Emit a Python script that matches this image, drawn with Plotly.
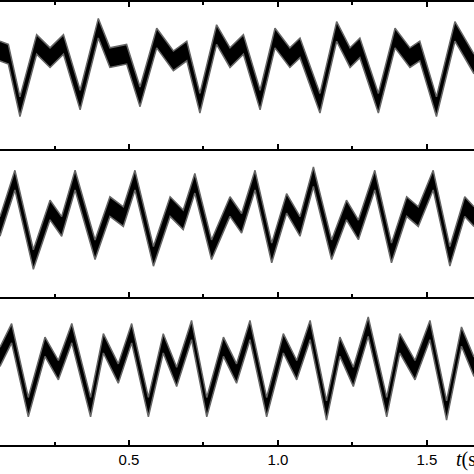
import plotly.graph_objects as go
from plotly.subplots import make_subplots

# time (s) and centre level of the noisy trace
t1 = [0.067, 0.095, 0.134, 0.190, 0.235, 0.280, 0.336, 0.397, 0.436, 0.492, 0.537, 0.593, 0.649,
      0.694, 0.738, 0.794, 0.839, 0.884, 0.940, 0.990, 1.040, 1.074, 1.141, 1.197, 1.242, 1.275,
      1.337, 1.393, 1.443, 1.476, 1.532, 1.594, 1.658]
v1 = [1.0, 0.87, -1.27, 1.27, 0.73, 1.27, -1.0, 1.93, 0.73, 0.87, -0.87, 1.53, 0.6,
      1.0, -1.13, 1.67, 0.73, 1.27, -1.0, 1.53, 0.73, 1.13, -1.13, 1.8, 0.73, 1.13,
      -1.13, 1.53, 0.73, 1.0, -1.27, 1.8, 0.47]

t2 = [0.067, 0.117, 0.179, 0.235, 0.274, 0.319, 0.386, 0.436, 0.481, 0.520, 0.582, 0.638, 0.682,
      0.721, 0.777, 0.839, 0.878, 0.923, 0.979, 1.029, 1.074, 1.119, 1.180, 1.230, 1.270, 1.325,
      1.381, 1.432, 1.471, 1.521, 1.577, 1.627, 1.658]
v2 = [-0.12, 1.77, -1.47, 0.55, -0.12, 1.77, -1.07, 0.69, 0.28, 1.77, -1.34, 0.69, 0.15,
      1.64, -1.07, 0.69, 0.01, 1.77, -1.20, 0.82, -0.12, 1.91, -1.07, 0.55, -0.26, 1.77,
      -1.20, 0.69, 0.28, 1.77, -1.34, 0.69, 0.28]

t3 = [0.067, 0.106, 0.162, 0.218, 0.263, 0.308, 0.371, 0.414, 0.464, 0.509, 0.565, 0.615, 0.660,
      0.710, 0.761, 0.817, 0.861, 0.906, 0.962, 1.018, 1.063, 1.108, 1.163, 1.208, 1.253, 1.303,
      1.365, 1.409, 1.460, 1.510, 1.566, 1.616, 1.658]
v3 = [0.65, 1.63, -1.43, 1.07, 0.10, 1.63, -1.43, 1.21, -0.04, 1.63, -1.43, 1.21, -0.18,
      1.76, -1.43, 1.07, -0.04, 1.76, -1.43, 1.21, 0.10, 1.76, -1.57, 1.07, -0.18, 1.90,
      -1.43, 1.21, 0.10, 1.76, -1.57, 1.49, 0.24]

half_width = 0.4  # spread of the noise around the centre

fig = make_subplots(rows=3, cols=1, shared_xaxes=True)

for i, (t, v) in enumerate([(t1, v1), (t2, v2), (t3, v3)], start=1):
    upper = [y + half_width for y in v]
    lower = [y - half_width for y in v]
    fig.add_trace(go.Scatter(x=t, y=upper, mode="lines", line=dict(color="#666", width=1.5)), row=i, col=1)
    fig.add_trace(go.Scatter(x=t, y=lower, mode="lines", fill="tonexty", fillcolor="black",
                             line=dict(color="#666", width=1.5)), row=i, col=1)

fig.update_layout(
    width=474, height=474,
    margin=dict(l=0, r=0, t=2, b=29),
    showlegend=False,
    plot_bgcolor="white", paper_bgcolor="white",
    font=dict(family="Liberation Sans, Arial", size=15, color="black"),
)

domains = [[0.668, 1.0], [0.334, 0.666], [0.0, 0.327]]
for i in range(1, 4):
    fig.update_yaxes(domain=domains[i - 1], range=[-3, 3], showticklabels=False, showgrid=False,
                     zeroline=False, ticks="", row=i, col=1)
    fig.update_xaxes(range=[0.067, 1.658], showgrid=False, zeroline=False,
                     showline=True, linecolor="black", linewidth=2,
                     ticks="inside", ticklen=5, tickwidth=1.5, tickcolor="black",
                     tickvals=[0.5, 1.0, 1.5],
                     minor=dict(ticks="inside", ticklen=3, tickcolor="black", tickvals=[0.25, 0.75, 1.25]),
                     showticklabels=(i == 3), row=i, col=1)
fig.update_xaxes(mirror="ticks", row=1, col=1)
fig.update_xaxes(ticktext=["0.5", "1.0", "1.5"], row=3, col=1)

fig.add_annotation(text="<i>t</i>(s)", xref="paper", yref="paper", x=0.958, y=0.0,
                   xanchor="left", yanchor="top", showarrow=False, yshift=-1,
                   font=dict(family="Liberation Serif, Times New Roman", size=20))

fig.write_html("out.html", config={"displayModeBar": False},
               post_script="document.body.style.margin='0';")
